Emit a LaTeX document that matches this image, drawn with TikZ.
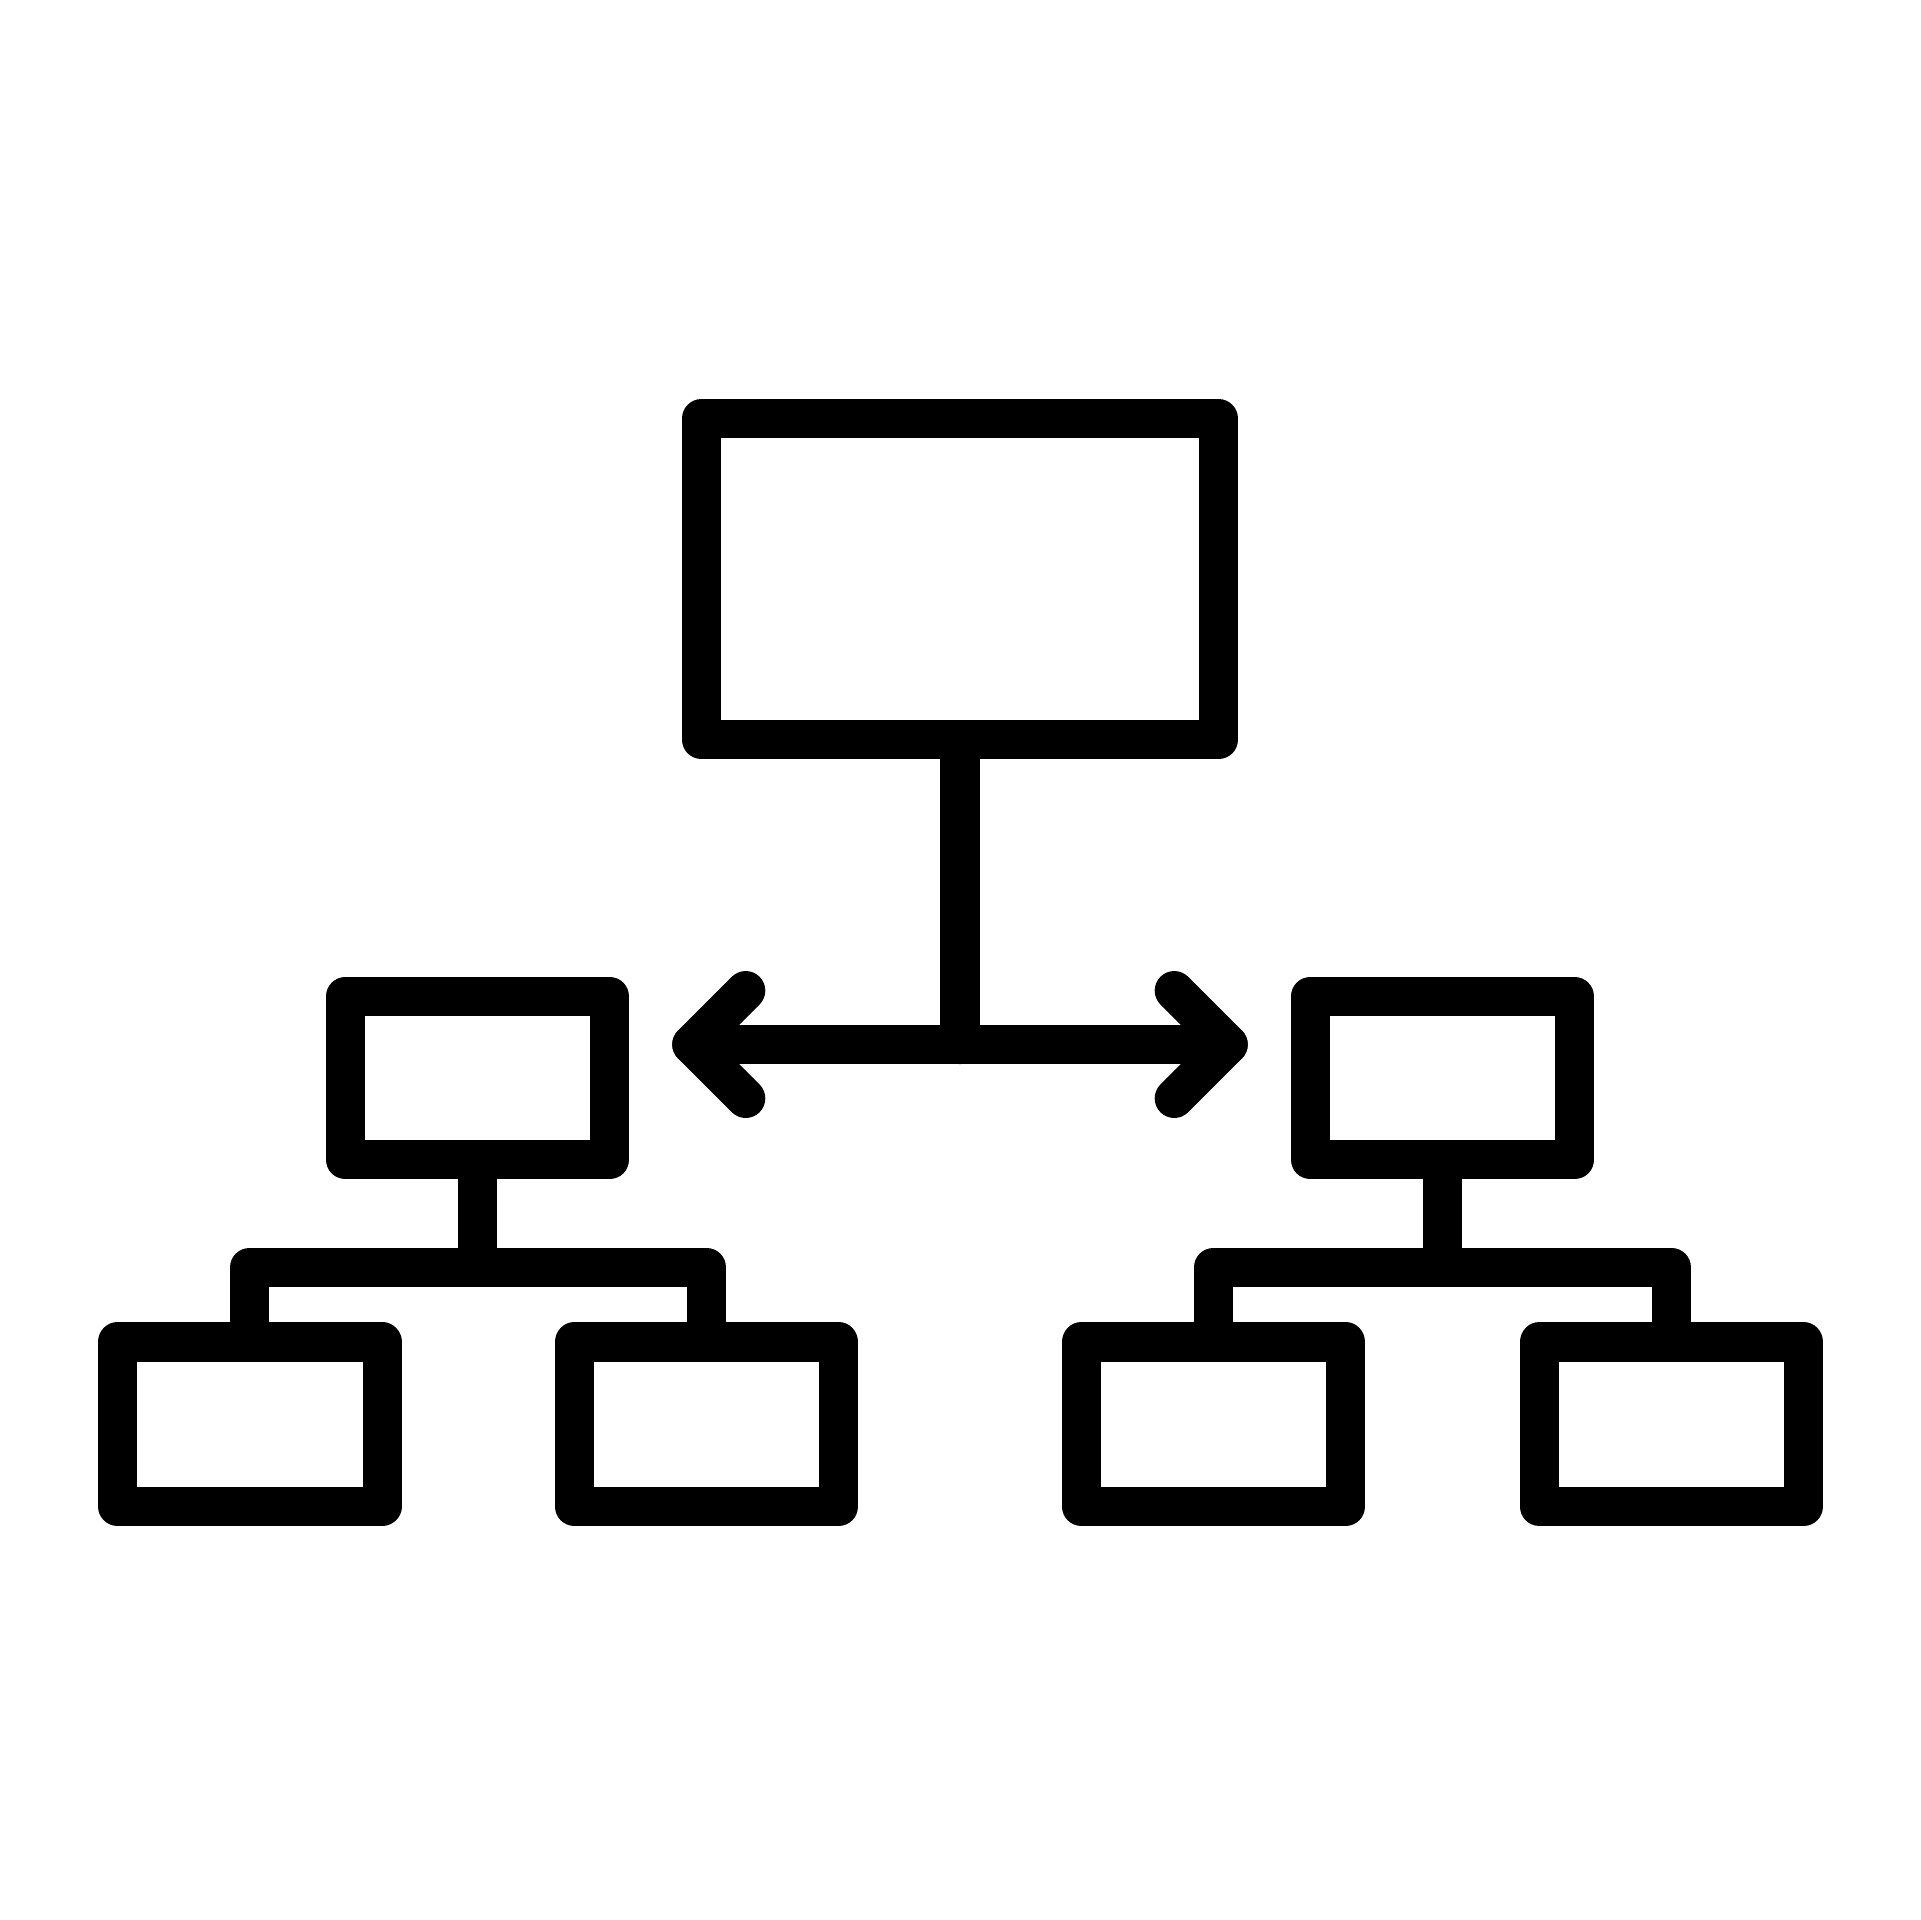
\documentclass[tikz,border=0pt]{standalone}
\begin{document}
\begin{tikzpicture}[x=0.01cm,y=-0.01cm,
  ln/.style={line width=0.32cm,line join=round,line cap=round},
  box/.style={draw,ln,rectangle,inner sep=0pt,outer sep=0pt}]
\useasboundingbox (0,0) rectangle (1568,1568);
% boxes
\node[box,minimum width=4.22cm,minimum height=2.62cm] (top) at (784,473) {};
\node[box,minimum width=2.16cm,minimum height=1.33cm] (lm) at (390,880.5) {};
\node[box,minimum width=2.16cm,minimum height=1.33cm] (rm) at (1178,880.5) {};
\node[box,minimum width=2.16cm,minimum height=1.34cm] (b1) at (204,1163) {};
\node[box,minimum width=2.16cm,minimum height=1.34cm] (b2) at (577,1163) {};
\node[box,minimum width=2.16cm,minimum height=1.34cm] (b3) at (991,1163) {};
\node[box,minimum width=2.16cm,minimum height=1.34cm] (b4) at (1365,1163) {};
% coordinates
\coordinate (hub) at (784,853);
\coordinate (ltip) at (565,853);
\coordinate (rtip) at (1003,853);
\coordinate (lu) at (609,809);
\coordinate (ld) at (609,897);
\coordinate (ru) at (959,809);
\coordinate (rd) at (959,897);
\coordinate (lj) at (390,1035);
\coordinate (rj) at (1178,1035);
% connectors
\draw[ln] (top.south) -- (hub);
\draw[ln] (ltip) -- (rtip);
\draw[ln] (lu) -- (ltip) -- (ld);
\draw[ln] (ru) -- (rtip) -- (rd);
\draw[ln] (lm.south) -- (lj);
\draw[ln] (b1.north) |- (lj) -| (b2.north);
\draw[ln] (rm.south) -- (rj);
\draw[ln] (b3.north) |- (rj) -| (b4.north);
\end{tikzpicture}
\end{document}
